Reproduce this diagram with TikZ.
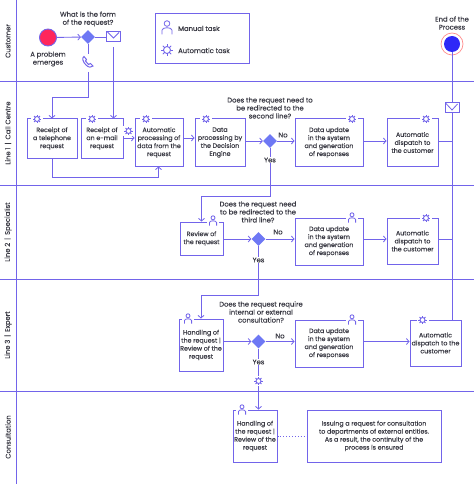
\documentclass[tikz,border=0pt]{standalone}
\usepackage{fontspec}
\setmainfont{Poppins}[FakeBold=0.2]
\usetikzlibrary{arrows.meta,shapes.geometric}
\definecolor{ln}{HTML}{7264EA}
\definecolor{tx}{HTML}{3A3A44}
\definecolor{dia}{HTML}{6E78F4}
\tikzset{
  x=1pt,y=-1pt,
  every node/.style={text=tx,font=\fontsize{6.3}{8}\selectfont,inner sep=0pt,align=center},
  lane/.style={draw=ln,line width=1pt},
  conn/.style={draw=ln,line width=0.9pt},
  arr/.style={conn,-{Straight Barb[length=2.6pt,width=6pt,line width=0.8pt]}},
  box/.style={draw=ln,line width=1pt,fill=white},
  gate/.style={diamond,fill=dia,draw=none,minimum width=14pt,minimum height=14pt},
  sidelabel/.style={rotate=90,font=\fontsize{6.8}{8}\selectfont},
  lbl/.style={font=\fontsize{6.8}{8}\selectfont},
  yn/.style={lbl,fill=white,inner sep=1pt},
  gearpic/.pic={
    \fill[white] (-6,-5) rectangle (6,5);
    \draw[ln,line width=0.9pt] (0,0) circle (2.5);
    \foreach \a in {0,45,...,315} \draw[ln,line width=0.9pt] (\a:2.5) -- (\a:4.2);
  },
  personpic/.pic={
    \fill[white] (-6,-6) rectangle (6,5);
    \draw[ln,line width=0.8pt] (0,-3.2) circle (2);
    \draw[ln,line width=0.8pt] (-3.6,4.5) -- (-3.6,1.6) .. controls (-3.6,-0.8) and (3.6,-0.8) .. (3.6,1.6) -- (3.6,4.5);
  },
}
\begin{document}
\begin{tikzpicture}
\useasboundingbox (0,0) rectangle (474,484);
% lanes
\coordinate (vt) at (16,0); \coordinate (vb) at (16,484);
\draw[lane] (vt) -- (vb);
\foreach \y in {82,185.5,279,391} \draw[lane] (0,\y) -- (474,\y);
\node[sidelabel] (l1) at (8,41) {Customer};
\node[sidelabel] (l2) at (8,133) {Line 1 \,|\, Call Centre};
\node[sidelabel] (l3) at (8,232) {Line 2 \,|\, Specialist};
\node[sidelabel] (l4) at (8,335) {Line 3 \,|\, Expert};
\node[sidelabel] (l5) at (8,437) {Consultation};
% legend
\node[box,minimum width=94pt,minimum height=50pt] (legend) at (202,39) {};
\pic[scale=1.4] at (167,28) {personpic};
\pic[scale=1.4] at (167,50) {gearpic};
\node[lbl,anchor=west] (lg1) at (178,28.5) {Manual task};
\node[lbl,anchor=west] (lg2) at (178,50.5) {Automatic task};
% boxes
\node[box,minimum width=50pt,minimum height=39pt] (b1) at (52,138.5) {Receipt of\\a telephone\\request};
\node[box,minimum width=42pt,minimum height=39pt] (b2) at (102,138.5) {Receipt of\\an e-mail\\request};
\node[box,minimum width=48pt,minimum height=47pt] (b3) at (159,142.5) {Automatic\\processing of\\data from the\\request};
\node[box,minimum width=50pt,minimum height=47pt] (b4) at (220,142.5) {Data\\processing by\\the Decision\\Engine};
\node[box,minimum width=68pt,minimum height=47pt] (b5) at (329,142.5) {Data update\\in the system\\and generation\\of responses};
\node[box,minimum width=51pt,minimum height=47pt] (b6) at (412.5,142.5) {Automatic\\dispatch to\\the customer};
\node[box,minimum width=43pt,minimum height=33pt] (b7) at (201.5,238.5) {Review of\\the request};
\node[box,minimum width=68pt,minimum height=47pt] (b8) at (329,241.5) {Data update\\in the system\\and generation\\of responses};
\node[box,minimum width=51pt,minimum height=46pt] (b9) at (412.5,241) {Automatic\\dispatch to\\the customer};
\node[box,minimum width=44pt,minimum height=52pt] (b10) at (201,345) {Handling of\\the request |\\Review of the\\request};
\node[box,minimum width=68pt,minimum height=47pt] (b11) at (329,343.5) {Data update\\in the system\\and generation\\of responses};
\node[box,minimum width=51pt,minimum height=46pt] (b12) at (435.5,343) {Automatic\\dispatch to the\\customer};
\node[box,minimum width=44pt,minimum height=52pt] (b13) at (255,436) {Handling of\\the request |\\Review of the\\request};
\node[box,minimum width=134pt,minimum height=52pt] (b14) at (374,436) {Issuing a request for consultation\\to departments of external entities.\\As a result, the continuity of the\\process is ensured};
% connectors' free corners
\coordinate (a1) at (88,72); \coordinate (a2) at (88,97); \coordinate (a3) at (52,97);
\coordinate (e1) at (113.5,47);
\coordinate (q1) at (52.5,177); \coordinate (q2) at (158.5,177);
\coordinate (r1) at (270,196); \coordinate (r2) at (201.5,196);
\coordinate (s1) at (258.5,295); \coordinate (s2) at (201,295);
% events and gates
\node[circle,draw=ln,line width=0.9pt,fill=red!75!magenta!85!white,minimum size=17pt] (start) at (48,37.5) {};
\node[circle,draw=red!45!white,line width=0.7pt,minimum size=22pt] (endring) at (452,44) {};
\node[circle,fill=ln!40!blue,minimum size=16pt] (endc) at (452,44) {};
\node[gate] (d1) at (88,37) {};
\node[gate] (d2) at (270,141) {};
\node[gate] (d3) at (258.5,239) {};
\node[gate] (d4) at (258.5,341.5) {};
\draw[arr] (start) -- (d1);
\draw[conn] (d1) -- (107,37);
\draw[conn] (d1) -- (88,54);
\draw[arr] (a1) -- (a2) -- (a3) -- (b1.north);
\draw[arr] (e1) -- (e1 |- b2.north);
\draw[arr] (b2.east |- 0,138) -- (b3.west |- 0,138);
\draw[arr] (b3.east |- 0,138) -- (b4.west |- 0,138);
\draw[arr] (q1 |- b1.south) -- (q1) -- (q2) -- (q2 |- b3.south);
\draw[arr] (b4.east |- d2) -- (d2.west);
\draw[arr] (d2.east) -- (b5.west |- d2);
\draw[arr] (b5.east |- d2) -- (b6.west |- d2);
\draw[arr] (d2.south) -- (r1) -- (r2) -- (b7.north);
\draw[arr] (b7.east |- d3) -- (d3.west);
\draw[arr] (d3.east) -- (b8.west |- d3);
\draw[arr] (b8.east |- d3) -- (b9.west |- d3);
\draw[arr] (d3.south) -- (s1) -- (s2) -- (b10.north);
\draw[arr] (b10.east |- d4) -- (d4.west);
\draw[arr] (d4.east) -- (b11.west |- d4);
\draw[arr] (b11.east |- d4) -- (b12.west |- d4);
\draw[arr] (d4.south) -- (d4 |- b13.north);
\draw[conn,dotted] (b13.east) -- (b14.west);
\draw[conn] (endc) -- (452,320);
\draw[conn] (b6.east |- d2) -- (452,141);
\draw[conn] (b9.east |- d3) -- (452,239);
\node[box,minimum width=14pt,minimum height=10pt] (env1) at (113.5,36.5) {};
\node[box,minimum width=14pt,minimum height=10pt] (env2) at (452,108) {};
\draw[ln,line width=0.8pt] (env1.north west) ++(1.5,1) -- (113.5,38) -- (119,32.5);
\draw[ln,line width=0.8pt] (env2.north west) ++(1.5,1) -- (452,110) -- (457.5,104);
\draw[ln,line width=1pt,fill=white] (84,56.5) .. controls (81.5,58) and (83,62) .. (86,65) .. controls (88.5,67.5) and (91.5,68) .. (93,66) -- (90.5,63.5) -- (88.5,64.5) -- (85.5,61) -- (86.5,59.5) -- cycle;
% icons
\pic at (37,119) {gearpic};
\pic at (92,119) {gearpic};
\pic at (128.5,131) {gearpic};
\pic at (146,119) {gearpic};
\pic at (206,119) {gearpic};
\pic at (352,119) {gearpic};
\pic at (426,119) {gearpic};
\pic at (213,221) {personpic};
\pic at (352,218) {personpic};
\pic at (426,218) {gearpic};
\pic at (188,319) {personpic};
\pic at (352,320) {personpic};
\pic at (422.5,320) {gearpic};
\pic at (258.5,381) {gearpic};
\pic at (242,410) {personpic};
% labels
\node[lbl] (t1) at (88,19) {What is the form\\of the request?};
\node[lbl] (t2) at (48,59) {A problem\\emerges};
\node[lbl] (t3) at (452,23) {End of the\\Process};
\node[lbl] (t4) at (270,108) {Does the request need to\\be redirected to the\\second line?};
\node[lbl] (t5) at (258,212) {Does the request need\\to be redirected to the\\third line?};
\node[lbl] (t6) at (261,312) {Does the request require\\internal or external\\consultation?};
\node[yn] (no1) at (283,135) {No};
\node[yn] (yes1) at (270,160) {Yes};
\node[yn] (no2) at (278,232) {No};
\node[yn] (yes2) at (258.5,260) {Yes};
\node[yn] (no3) at (280,336) {No};
\node[yn] (yes3) at (258.5,362) {Yes};
\end{tikzpicture}
\end{document}
